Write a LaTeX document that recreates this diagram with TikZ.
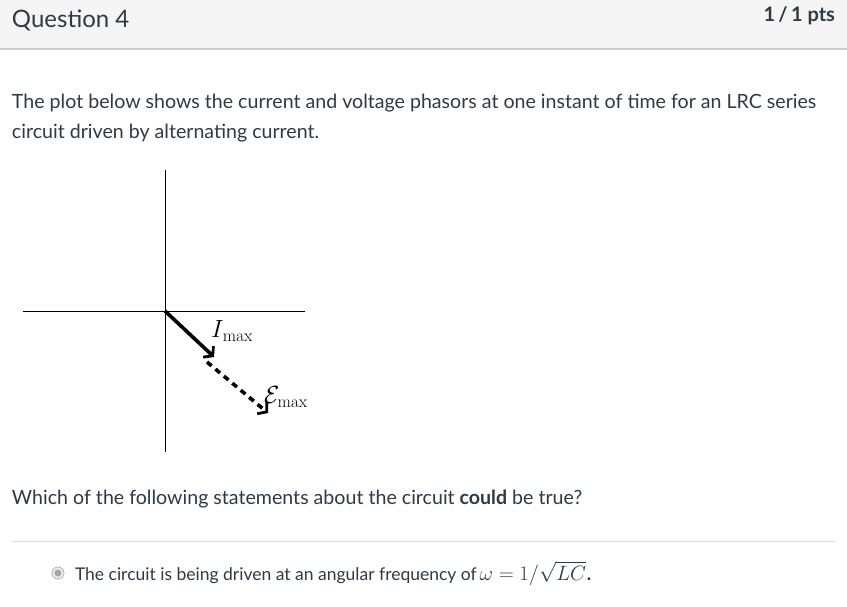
\documentclass[tikz,border=0pt]{standalone}
\usepackage[no-math]{fontspec}
\setmainfont{Lato}
\usetikzlibrary{arrows.meta}
\definecolor{txt}{HTML}{2D3B45}
\definecolor{hdr}{HTML}{F5F5F5}
\definecolor{hline}{HTML}{C7CDD1}
\tikzset{
  plain/.style={inner sep=0pt, outer sep=0pt, text=txt, font=\fontsize{19.6}{22}\selectfont},
  axis/.style={line width=1pt, black},
  phasor/.style={line width=3.6pt, black, -{Straight Barb[length=6pt,width=15pt,line width=2.8pt]}},
  lbl/.style={inner sep=0pt, anchor=base west, font=\fontsize{23}{25}\selectfont},
}
\newcommand{\subtxt}[1]{\raisebox{-4pt}{\fontsize{19}{19}\selectfont$\mathrm{#1}$}}
\begin{document}
\begin{tikzpicture}[x=1pt,y=-1pt]
\useasboundingbox (0,0) rectangle (847,607);
\fill[white] (0,0) rectangle (847,607);
% header
\fill[hdr] (0,0) rectangle (847,48);
\draw[hline, line width=1.2pt] (0,49) -- (847,49);
\node[plain, anchor=base west, font=\fontsize{24}{28}\selectfont] (q) at (12,28) {Question 4};
\node[plain, anchor=base east, font=\fontsize{20}{24}\selectfont\bfseries] (pts) at (835,22) {1\,/\,1 pts};
% paragraph
\node[plain, anchor=base west] (p1) at (12,109) {The plot below shows the current and voltage phasors at one instant of time for an LRC series};
\node[plain, anchor=base west] (p2) at (12,139) {circuit driven by alternating current.};
% axes
\coordinate (vt) at (165,170);
\coordinate (vb) at (165,452);
\coordinate (hl) at (23,311);
\coordinate (hr) at (305,311);
\coordinate (o) at (165,311);
\draw[axis] (vt) -- (vb);
\draw[axis] (hl) -- (hr);
% phasors
\coordinate (itip) at (214,357);
\coordinate (estart) at (207,362);
\coordinate (etip) at (268,413);
\draw[phasor] (o) -- (itip);
\draw[phasor, dash pattern=on 6pt off 5pt] (estart) -- (etip);
\node[lbl] (il) at (211,337) {$I$\kern-1pt\subtxt{max}};
\node[lbl] (el) at (264,403) {$\mathcal{E}$\kern-2pt\subtxt{max}};
% question
\node[plain, anchor=base west] (q2) at (12,504) {Which of the following statements about the circuit \textbf{could} be true?};
\draw[hline!70, line width=1pt] (12,541) -- (835,541);
% option
\node[circle, draw=gray!60, fill=gray!15, line width=0.8pt, minimum size=12pt, inner sep=0pt] (rb) at (58,573) {};
\fill[gray!70] (rb) circle (3.5pt);
\node[plain, anchor=base west, font=\fontsize{17.5}{20}\selectfont] (opt) at (75,580) {The circuit is being driven at an angular frequency of\,\fontsize{22.7}{26}\selectfont$\omega = 1/\sqrt{LC}$.};
\end{tikzpicture}
\end{document}
